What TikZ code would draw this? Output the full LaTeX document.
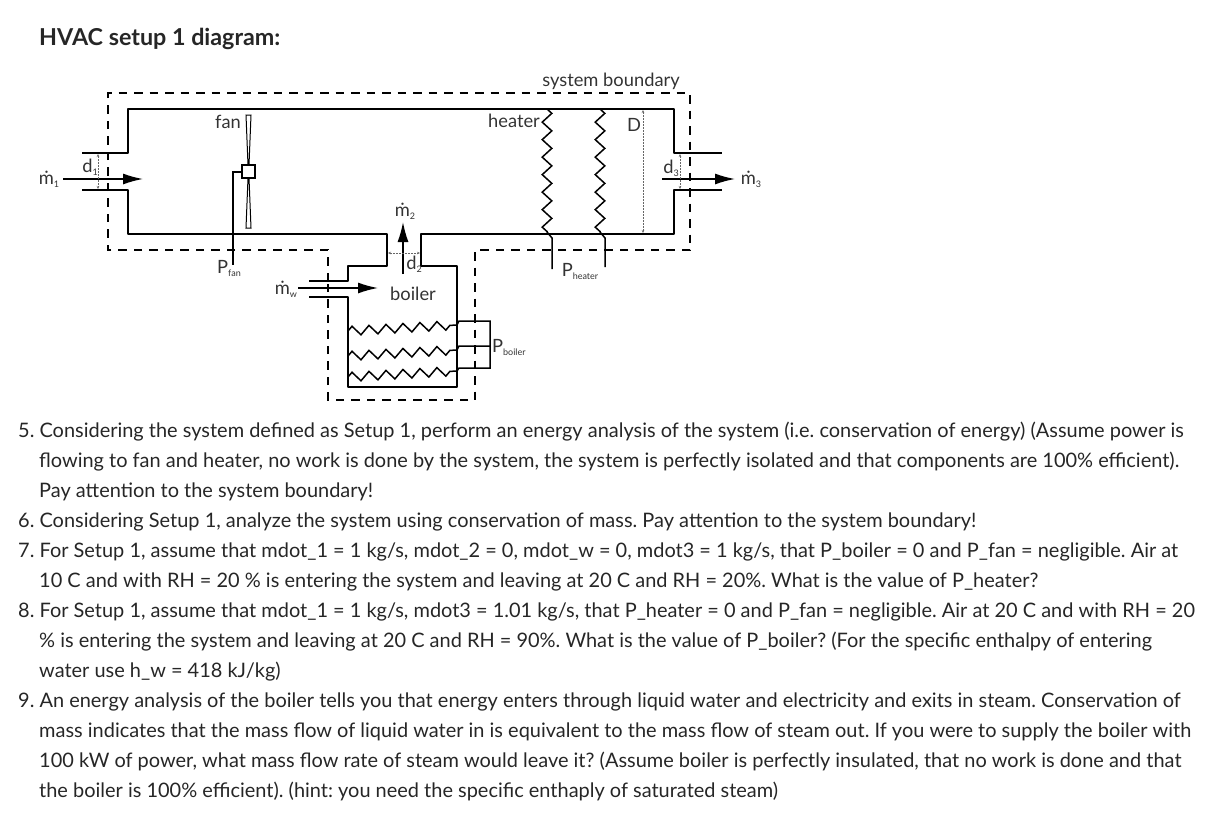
\documentclass[tikz,border=0pt]{standalone}
\usepackage{fontspec}
\setmainfont{Lato}
\usetikzlibrary{arrows.meta,decorations.pathmorphing}
\tikzset{
  wall/.style={line width=1.6pt, line join=round},
  boundary/.style={line width=1.5pt, dash pattern=on 8.5pt off 7pt},
  flow/.style={line width=1.5pt, -{Latex[length=20pt,width=11pt]}},
  wire/.style={line width=1.5pt},
  dim/.style={line width=0.5pt, black!60, densely dotted, {Stealth[length=3pt,width=2.5pt]}-{Stealth[length=3pt,width=2.5pt]}},
  zig/.style={line width=1.5pt, decorate, decoration={zigzag,segment length=17.5pt,amplitude=4.8pt}},
  coil/.style={line width=1.5pt, decorate, decoration={zigzag,segment length=17pt,amplitude=4.5pt}},
  label/.style={inner sep=0pt, text=black!80, font=\fontsize{18.3}{18}\selectfont},
  textline/.style={inner sep=0pt, anchor=base west, text=black!85, font=\fontsize{19.95}{20}\selectfont\frenchspacing}
}
\newcommand{\tinysub}[1]{\raisebox{-3pt}{\fontsize{9}{9}\selectfont #1}}
\begin{document}
\begin{tikzpicture}[x=1pt,y=-1pt]
  \useasboundingbox (0,0) rectangle (1223,828);
  \node[textline, font=\fontsize{23.3}{24}\bfseries\selectfont] (title) at (39,45) {HVAC setup 1 diagram:};

  % system boundary
  \draw[boundary] (328,281) -- (328,250) -- (108,250) -- (108,93) -- (690,93) -- (690,250) -- (475,250) -- (475,400) -- (328,400) -- (328,281);
  \node[label] (sysb) at (611,81) {system boundary};

  % duct and boiler
  \draw[wall] (82,153) -- (128,153) -- (128,109) -- (674,109) -- (674,153) -- (722,153);
  \draw[wall] (82,190) -- (128,190) -- (128,234) -- (387,234) -- (387,266) -- (348,266) -- (348,281) -- (309,281);
  \draw[wall] (309,297) -- (348,297) -- (348,387) -- (457,387) -- (457,266) -- (421,266) -- (421,234) -- (674,234) -- (674,190) -- (722,190);

  % flows
  \draw[flow] (63,179) -- (143,179);
  \draw[flow] (662,179) -- (735,179);
  \draw[flow] (403,274) -- (403,222);
  \draw[flow] (298,288) -- (378,288);
  \node[label] (m1) at (49,179) {\.m\tinysub{1}};
  \node[label] (m2) at (405,211) {\.m\tinysub{2}};
  \node[label] (m3) at (751,179) {\.m\tinysub{3}};
  \node[label] (mw) at (286,289) {\.m\tinysub{w}};

  % fan
  \draw[line width=1pt] (246,115) -- (251,115) -- (249,165) -- (248,165) -- cycle;
  \draw[line width=1pt] (248,178) -- (249,178) -- (251,228) -- (246,228) -- cycle;
  \draw[wire] (242,172) -- (233,172) -- (233,265);
  \node[draw, line width=1.3pt, fill=white, minimum size=13pt, inner sep=0pt] (fanbox) at (248.5,171.5) {};
  \node[label] (fan) at (228,122) {fan};
  \node[label] (pfan) at (229,268) {P\tinysub{fan}};

  % heater
  \draw[zig] (547,109) -- (547,232);
  \draw[zig] (600,109) -- (600,232);
  \draw[wire] (547,232) -- (552,238) -- (552,269);
  \draw[wire] (600,232) -- (605,238) -- (605,267);
  \node[label] (heater) at (514,121) {heater};
  \node[label] (pheater) at (580,271) {P\tinysub{heater}};

  % boiler coils
  \draw[coil] (348,331) -- (457,325);
  \draw[coil] (348,356) -- (457,350);
  \draw[coil] (348,377) -- (457,371);
  \draw[wire] (457,325) -- (459,321) -- (490,321) -- (490,368) -- (459,368) -- (457,371);
  \draw[wire] (457,350) -- (459,346) -- (490,346);
  \node[label] (boiler) at (413,294) {boiler};
  \node[label, anchor=west] (pboiler) at (492,347) {P\tinysub{boiler}};

  % dimensions
  \draw[dim] (643,110) -- (643,233);
  \draw[dim] (98,154) -- (98,189);
  \draw[dim] (680,154) -- (680,189);
  \draw[dim] (388,253) -- (420,253);
  \node[label] (bigd) at (634,125) {D};
  \node[label] (d1) at (90,167) {d\tinysub{1}};
  \node[label] (d2) at (414,264) {d\tinysub{2}};
  \node[label] (d3) at (671,168) {d\tinysub{3}};

  % questions
  \node[textline] (l1) at (18,437) {5. Considering the system defined as Setup 1, perform an energy analysis of the system (i.e. conservation of energy) (Assume power is};
  \node[textline] (l2) at (39,467) {flowing to fan and heater, no work is done by the system, the system is perfectly isolated and that components are 100\% efficient).};
  \node[textline] (l3) at (39,497) {Pay attention to the system boundary!};
  \node[textline] (l4) at (18,527) {6. Considering Setup 1, analyze the system using conservation of mass. Pay attention to the system boundary!};
  \node[textline] (l5) at (18,557) {7. For Setup 1, assume that mdot\_1 = 1 kg/s, mdot\_2 = 0, mdot\_w = 0, mdot3 = 1 kg/s, that P\_boiler = 0 and P\_fan = negligible. Air at};
  \node[textline] (l6) at (39,587) {10 C and with RH = 20 \% is entering the system and leaving at 20 C and RH = 20\%. What is the value of P\_heater?};
  \node[textline] (l7) at (18,617) {8. For Setup 1, assume that mdot\_1 = 1 kg/s, mdot3 = 1.01 kg/s, that P\_heater = 0 and P\_fan = negligible. Air at 20 C and with RH = 20};
  \node[textline] (l8) at (39,647) {\% is entering the system and leaving at 20 C and RH = 90\%. What is the value of P\_boiler? (For the specific enthalpy of entering};
  \node[textline] (l9) at (39,677) {water use h\_w = 418 kJ/kg)};
  \node[textline] (l10) at (18,707) {9. An energy analysis of the boiler tells you that energy enters through liquid water and electricity and exits in steam. Conservation of};
  \node[textline] (l11) at (39,737) {mass indicates that the mass flow of liquid water in is equivalent to the mass flow of steam out. If you were to supply the boiler with};
  \node[textline] (l12) at (39,767) {100 kW of power, what mass flow rate of steam would leave it? (Assume boiler is perfectly insulated, that no work is done and that};
  \node[textline] (l13) at (39,797) {the boiler is 100\% efficient). (hint: you need the specific enthaply of saturated steam)};
\end{tikzpicture}
\end{document}
